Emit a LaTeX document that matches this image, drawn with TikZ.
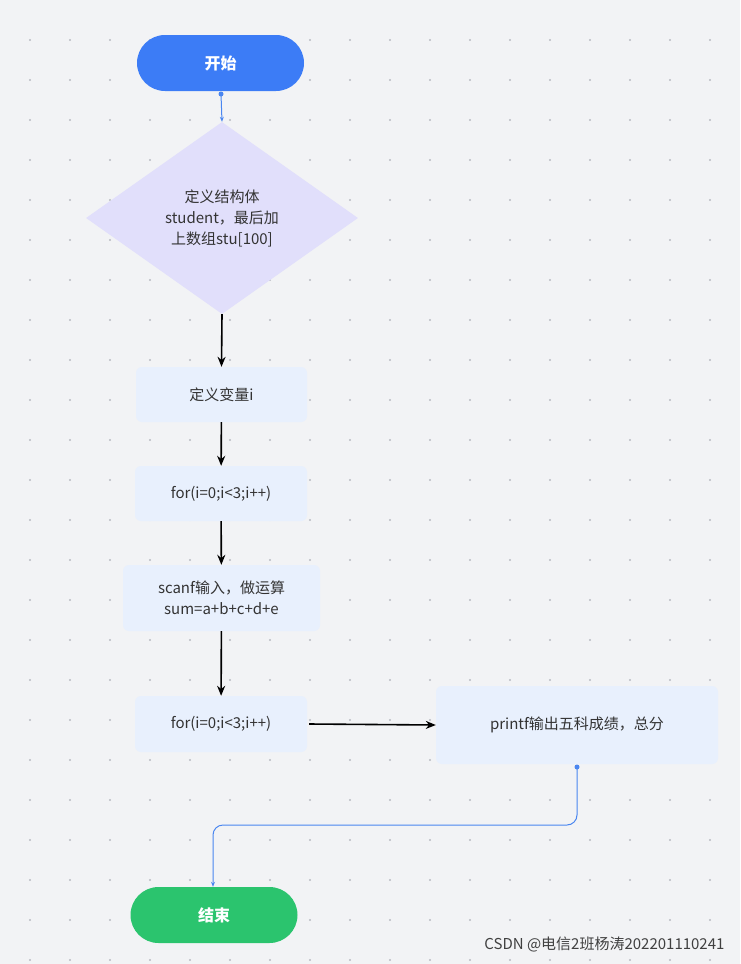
\documentclass[tikz,border=0pt]{standalone}
\usepackage{fontspec}
\setmainfont{Noto Sans CJK SC}
\usetikzlibrary{shapes.geometric,arrows.meta}
\definecolor{bg}{HTML}{F2F3F5}
\definecolor{dotc}{HTML}{B8BBC2}
\definecolor{startc}{HTML}{3C7CF6}
\definecolor{endc}{HTML}{2BC46E}
\definecolor{diac}{HTML}{E1DFFB}
\definecolor{boxc}{HTML}{E8F0FD}
\definecolor{linec}{HTML}{4A86F0}
\definecolor{txt}{HTML}{333333}
\begin{document}
\begin{tikzpicture}[x=1pt,y=-1pt,
  every node/.style={font=\fontsize{15}{21}\selectfont, text=txt},
  pill/.style={rounded corners=28pt, minimum width=167pt, minimum height=56pt, text=white, font=\fontsize{16}{20}\selectfont\bfseries},
  box/.style={fill=boxc, rounded corners=6pt, align=center},
  arr/.style={-{Stealth[length=10pt,width=8pt]}, line width=1.6pt, black},
  blu/.style={linec, line width=1pt, -{Stealth[length=5pt,width=4pt]}}]
\useasboundingbox (0,0) rectangle (740,964);
\fill[bg] (0,0) rectangle (740,964);
\foreach \i in {0,...,17}{\foreach \j in {0,...,23}{
  \fill[dotc] (30+40*\i,40+40*\j) circle (1.1pt);}}
\node[pill, fill=startc] (s) at (220.5,63) {开始};
\node[diamond, fill=diac, minimum width=272pt, minimum height=192pt, inner sep=0pt, aspect=1.42, align=center] (d) at (222,218) {定义结构体\\student，最后加\\上数组stu[100]};
\node[box, minimum width=171pt, minimum height=55pt] (v) at (221.5,394.5) {定义变量i};
\node[box, minimum width=172pt, minimum height=55pt] (f1) at (221,493.5) {for(i=0;i<3;i++)};
\node[box, minimum width=197pt, minimum height=66pt] (sc) at (221.5,598) {scanf输入，做运算\\sum=a+b+c+d+e};
\node[box, minimum width=172pt, minimum height=56pt] (f2) at (221,724) {for(i=0;i<3;i++)};
\node[box, minimum width=282pt, minimum height=78pt] (p) at (577,725) {printf输出五科成绩，总分};
\node[pill, fill=endc] (e) at (214,915) {结束};
\coordinate (s0) at (221,94);
\fill[linec] (s0) circle (2.5pt);
\draw[blu] (s0) -- (d.north);
\draw[arr] (d.south) -- (v.north);
\draw[arr] (v) -- (f1);
\draw[arr] (f1) -- (sc);
\draw[arr] (sc) -- (f2);
\draw[arr] (f2.east) ++(2,0) coordinate (f2e) (f2e) -- (p.west);
\coordinate (p0) at (577,767);
\fill[linec] (p0) circle (2.5pt);
\draw[blu, rounded corners=10pt] (p0) -- (577,825) -- (213,825) -- (e.north -| 213,0);
\node[anchor=east, text=black!75, font=\fontsize{15}{18}\selectfont] (w) at (728,944) {CSDN @电信2班杨涛202201110241};
\end{tikzpicture}
\end{document}
